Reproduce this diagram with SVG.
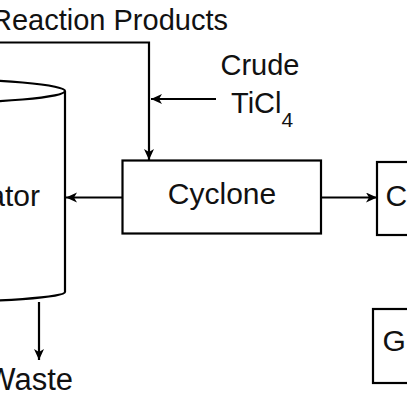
<svg xmlns="http://www.w3.org/2000/svg" width="407" height="407" viewBox="0 0 407 407">
  <style>
    .ln { fill: none; stroke: #000; stroke-width: 2.2; }
    .box { fill: #fff; stroke: #000; stroke-width: 2.2; }
    .t { font-family: "Liberation Sans", Arial, sans-serif; font-size: 30px; fill: #111; }
  </style>
  <defs>
    <marker id="arr" markerUnits="userSpaceOnUse" markerWidth="12" markerHeight="12" refX="11" refY="5" orient="auto">
      <path d="M0,0 L11,5 L0,10 L3,5 Z" fill="#000"/>
    </marker>
  </defs>
  <rect width="407" height="407" fill="#fff"/>

  <g id="connectors">
    <path class="ln" d="M0,42.5 H149 V160" marker-end="url(#arr)"/>
    <path class="ln" d="M216,99 H151" marker-end="url(#arr)"/>
    <path class="ln" d="M122,197.5 H66" marker-end="url(#arr)"/>
    <path class="ln" d="M321,197.5 H377" marker-end="url(#arr)"/>
    <path class="ln" d="M39,302 V360" marker-end="url(#arr)"/>
  </g>

  <g id="reaction-products">
    <text class="t" x="-9" y="30" style="font-size:29px">Reaction Products</text>
  </g>

  <g id="crude-ticl4">
    <text class="t" x="260" y="75" text-anchor="middle" style="font-size:29px">Crude</text>
    <text class="t" x="231" y="113" style="font-size:29px">TiCl<tspan dy="14" style="font-size:21px">4</tspan></text>
  </g>

  <g id="separator">
    <ellipse class="ln" cx="-80" cy="91" rx="145" ry="12"/>
    <path class="ln" d="M65,91 V292 A145,10 0 0 1 -225,292"/>
    <text class="t" x="40" y="206" text-anchor="end">ator</text>
  </g>

  <g id="cyclone">
    <rect class="box" x="122.5" y="160.5" width="198.5" height="73"/>
    <text class="t" x="222" y="204" text-anchor="middle">Cyclone</text>
  </g>

  <g id="c-box">
    <rect class="box" x="377" y="162" width="40" height="73"/>
    <text class="t" x="385.5" y="206">C</text>
  </g>

  <g id="g-box">
    <rect class="box" x="373" y="309" width="44" height="74"/>
    <text class="t" x="382.5" y="351">G</text>
  </g>

  <g id="waste">
    <text class="t" x="73" y="390" text-anchor="end" style="font-size:31px">Waste</text>
  </g>
</svg>
